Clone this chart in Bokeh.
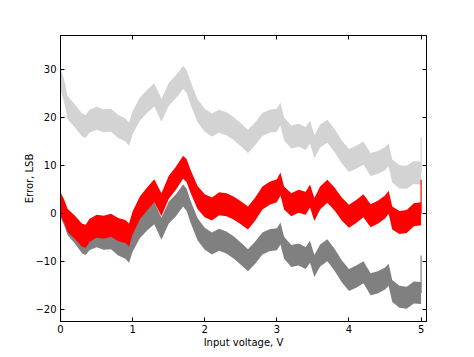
from bokeh.plotting import figure
from bokeh.models import Range1d, FixedTicker, LinearAxis, ColumnDataSource
from bokeh.embed import file_html
from bokeh.resources import INLINE

# ---- data ----
volts = [0.00, 0.05, 0.10, 0.20, 0.30, 0.35, 0.40, 0.50, 0.60, 0.70, 0.80, 0.90, 0.95,
         1.00, 1.10, 1.20, 1.30, 1.40, 1.50, 1.60, 1.70, 1.75, 1.80, 1.90,
         2.00, 2.10, 2.20, 2.30, 2.40, 2.50, 2.60, 2.70, 2.80, 2.90,
         3.00, 3.05, 3.10, 3.20, 3.30, 3.40, 3.46, 3.52, 3.60, 3.70, 3.80, 3.90,
         4.00, 4.10, 4.20, 4.30, 4.40, 4.50, 4.55, 4.60, 4.70, 4.80, 4.90, 5.00]

err_red = [2.0, 0.5, -1.5, -2.9, -4.6, -4.8, -3.6, -2.7, -2.9, -2.5, -3.4, -3.8, -4.5,
           -2.0, 1.1, 3.0, 4.7, 1.8, 5.4, 7.3, 9.6, 8.9, 6.8, 3.3,
           1.6, 0.9, 2.0, 1.8, 1.1, 0.1, -1.0, 0.9, 3.2, 4.2,
           4.7, 6.1, 3.2, 1.8, 2.5, 2.1, 3.6, 0.8, 3.2, 4.6, 3.0, 0.9,
           -0.6, 0.4, 1.6, -0.5, 0.2, 1.3, 2.3, -1.0, -1.9, -1.7, -0.3, -0.1]

err_dark = [1.5, -0.2, -2.3, -4.0, -6.1, -6.4, -5.4, -4.8, -5.3, -5.2, -6.5, -7.2, -8.0,
            -5.7, -2.9, -1.3, 0.0, -3.2, 0.1, 1.7, 3.7, 2.8, 0.5, -3.3,
            -5.3, -6.3, -5.5, -6.1, -7.1, -8.4, -9.8, -8.2, -6.3, -5.6,
            -5.4, -4.2, -7.2, -8.9, -8.6, -9.3, -8.0, -11.0, -8.8, -7.7, -9.7, -12.1,
            -13.9, -13.2, -12.3, -14.8, -14.4, -13.6, -12.8, -16.2, -17.4, -17.6, -16.5, -16.6]

err_light = [28.0, 25.5, 22.0, 20.3, 18.4, 18.1, 19.2, 19.8, 19.3, 19.4, 18.1, 17.4, 16.5,
             18.9, 21.7, 23.3, 24.7, 21.5, 24.8, 26.4, 28.3, 27.5, 25.2, 21.4,
             19.4, 18.4, 19.2, 18.7, 17.7, 16.4, 15.0, 16.6, 18.5, 19.2,
             19.4, 20.7, 17.6, 15.9, 16.3, 15.6, 16.9, 13.9, 16.1, 17.1, 15.2, 12.8,
             11.0, 11.7, 12.6, 10.2, 10.6, 11.4, 12.2, 8.8, 7.6, 7.5, 8.5, 8.4]

# noise band half-width (LSB)
band_light = 2.4
band_dark = 2.3
band_red = 2.4

# end-point spikes: (x, from, to)
spike_x = [0.0, 5.0, 5.0, 5.0]
spike_y0 = [2.0, 8.4, -0.1, -16.6]
spike_y1 = [-22.56, 15.8, 7.0, -8.8]
spike_col = ["#ff0000", "#d3d3d3", "#ff0000", "#808080"]

x_ticks = [0, 1, 2, 3, 4, 5]
y_ticks = [-20, -10, 0, 10, 20, 30]
y_tick_labels = {-20: "\u221220", -10: "\u221210", 0: "0", 10: "10", 20: "20", 30: "30"}

FONT = "DejaVu Sans"

p = figure(frame_width=366, frame_height=286, output_backend="svg", toolbar_location=None,
           x_range=Range1d(0, 5.075), y_range=Range1d(-22.56, 37.08),
           min_border_left=60, min_border_right=48, min_border_top=35, min_border_bottom=36)
p.background_fill_color = "white"
p.border_fill_color = "white"
p.outline_line_color = "black"
p.outline_line_width = 1
p.xgrid.visible = False
p.ygrid.visible = False

def band(vals, hw):
    return [v - hw for v in vals], [v + hw for v in vals]

lo, hi = band(err_light, band_light)
p.varea(x=volts, y1=lo, y2=hi, fill_color="#d3d3d3")
lo, hi = band(err_dark, band_dark)
p.varea(x=volts, y1=lo, y2=hi, fill_color="#808080")
lo, hi = band(err_red, band_red)
p.varea(x=volts, y1=lo, y2=hi, fill_color="#ff0000")

src = ColumnDataSource(dict(x=spike_x, y0=spike_y0, y1=spike_y1, c=spike_col))
p.segment(x0="x", y0="y0", x1="x", y1="y1", line_color="c", line_width=1.2, source=src)

for ax in (p.xaxis[0], p.yaxis[0]):
    ax.major_tick_in = 4
    ax.major_tick_out = 0
    ax.minor_tick_line_color = None
    ax.major_label_text_font = FONT
    ax.major_label_text_font_size = "10px"
    ax.major_label_text_color = "black"
    ax.axis_label_text_font = FONT
    ax.axis_label_text_font_size = "10px"
    ax.axis_label_text_font_style = "normal"
    ax.axis_label_text_color = "black"
    ax.axis_line_color = "black"
    ax.major_tick_line_color = "black"

p.xaxis[0].ticker = FixedTicker(ticks=x_ticks)
p.yaxis[0].ticker = FixedTicker(ticks=y_ticks)
p.yaxis[0].major_label_overrides = y_tick_labels
p.xaxis[0].axis_label = "Input voltage, V"
p.yaxis[0].axis_label = "Error, LSB"
p.xaxis[0].major_label_standoff = 3
p.xaxis[0].axis_label_standoff = 1
p.yaxis[0].major_label_standoff = 4
p.yaxis[0].axis_label_standoff = -3

# mirrored inward ticks on top and right (no labels)
top = LinearAxis(ticker=FixedTicker(ticks=x_ticks), major_tick_in=4, major_tick_out=0,
                 minor_tick_line_color=None, major_label_standoff=0,
                 major_label_overrides={t: "" for t in x_ticks}, axis_line_color="black")
right = LinearAxis(ticker=FixedTicker(ticks=y_ticks), major_tick_in=4, major_tick_out=0,
                   minor_tick_line_color=None, major_label_standoff=0,
                   major_label_overrides={t: "" for t in y_ticks}, axis_line_color="black")
p.add_layout(top, "above")
p.add_layout(right, "right")

open("out.html", "w").write(file_html(p, INLINE))
